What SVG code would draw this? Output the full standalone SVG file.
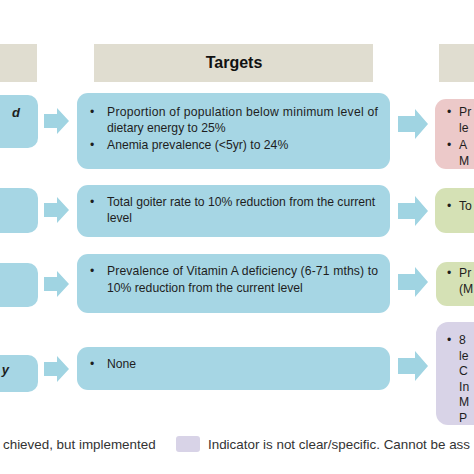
<svg xmlns="http://www.w3.org/2000/svg" width="474" height="474" viewBox="0 0 474 474">
<defs>
<style>
.hdr{fill:#e0ddd0}
.tgt{fill:#a6d6e4}
.arr{fill:#a0d4e2}
.red{fill:#ecc9c9}
.grn{fill:#d5e1b5}
.pur{fill:#d8d3e7}
text{font-family:"Liberation Sans",Arial,sans-serif;font-size:12.2px;fill:#1e1e1e}
.h{font-size:16px;font-weight:bold;fill:#111}
.bi{font-weight:bold;font-style:italic;font-size:13px}
.lg{font-size:13.4px;fill:#333}
</style>
<path id="la" d="M0,-7 H13 V-13 L25,0 L13,13 V7 H0 Z"/>
<path id="ra" d="M0,-8 H17 V-15 L30,0 L17,15 V8 H0 Z"/>
</defs>
<rect width="474" height="474" fill="#fff"/>
<g id="headers">
<rect class="hdr" x="-10" y="44" width="47" height="38"/>
<rect class="hdr" x="94" y="44" width="279" height="38"/>
<text class="h" x="234" y="68" text-anchor="middle">Targets</text>
<rect class="hdr" x="439" y="44" width="45" height="38"/>
</g>
<g id="left-column">
<g id="left1"><rect class="tgt" x="-10" y="95" width="48" height="53" rx="10"/><text class="bi" x="20" y="117" text-anchor="end">d</text></g>
<g id="left2"><rect class="tgt" x="-10" y="188" width="48" height="45" rx="10"/></g>
<g id="left3"><rect class="tgt" x="-10" y="263" width="48" height="44" rx="10"/></g>
<g id="left4"><rect class="tgt" x="-10" y="355" width="48" height="37" rx="10"/><text class="bi" x="9" y="374" text-anchor="end">y</text></g>
</g>
<g id="connectors">
<use href="#la" x="44" y="121" class="arr"/>
<use href="#la" x="44" y="210" class="arr"/>
<use href="#la" x="44" y="284" class="arr"/>
<use href="#la" x="44" y="369" class="arr"/>
<use href="#ra" x="398" y="124" class="arr"/>
<use href="#ra" x="398" y="211" class="arr"/>
<use href="#ra" x="398" y="282" class="arr"/>
<use href="#ra" x="398" y="366" class="arr"/>
</g>
<g id="target1">
<rect class="tgt" x="77" y="93" width="313" height="76" rx="11"/>
<text x="90" y="116">•</text>
<text x="107" y="116" textLength="271" lengthAdjust="spacing">Proportion of population below minimum level of</text>
<text x="107" y="132">dietary energy to 25%</text>
<text x="90" y="149">•</text>
<text x="107" y="149">Anemia prevalence (&lt;5yr) to 24%</text>
</g>
<g id="target2">
<rect class="tgt" x="77" y="185" width="313" height="52" rx="11"/>
<text x="90" y="206">•</text>
<text x="107" y="206">Total goiter rate to 10% reduction from the current</text>
<text x="107" y="222">level</text>
</g>
<g id="target3">
<rect class="tgt" x="77" y="254" width="313" height="59" rx="11"/>
<text x="90" y="275">•</text>
<text x="107" y="275" textLength="271" lengthAdjust="spacing">Prevalence of Vitamin A deficiency (6-71 mths) to</text>
<text x="107" y="292">10% reduction from the current level</text>
</g>
<g id="target4">
<rect class="tgt" x="77" y="347" width="313" height="43" rx="11"/>
<text x="90" y="368">•</text>
<text x="107" y="368">None</text>
</g>
<g id="result1">
<rect class="red" x="435" y="99" width="60" height="70" rx="11"/>
<text x="447" y="116">•</text><text x="459" y="116">Pr</text>
<text x="459" y="132">le</text>
<text x="447" y="149">•</text><text x="459" y="149">A</text>
<text x="459" y="165">M</text>
</g>
<g id="result2">
<rect class="grn" x="435" y="188" width="60" height="45" rx="11"/>
<text x="447" y="210">•</text><text x="459" y="210">To</text>
</g>
<g id="result3">
<rect class="grn" x="436" y="262" width="60" height="44" rx="11"/>
<text x="447" y="277">•</text><text x="459" y="277">Pr</text>
<text x="459" y="293">(M</text>
</g>
<g id="result4">
<rect class="pur" x="436" y="322" width="60" height="103" rx="12"/>
<text x="447" y="344">•</text><text x="459" y="344">8</text>
<text x="459" y="360">le</text>
<text x="459" y="375">C</text>
<text x="459" y="391">In</text>
<text x="459" y="406">M</text>
<text x="459" y="422">P</text>
</g>
<g id="legend">
<text class="lg" x="3" y="449">chieved, but implemented</text>
<rect class="pur" x="176" y="436" width="24" height="16" rx="3"/>
<text class="lg" x="208" y="449">Indicator is not clear/specific. Cannot be ass</text>
</g>
</svg>
